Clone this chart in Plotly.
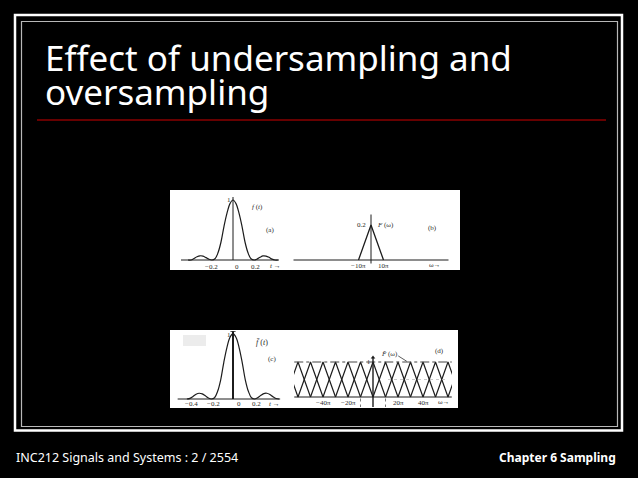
import plotly.graph_objects as go

W, H = 638, 478

# ---------------- data ----------------
# (a) f(t)
t_a = [-0.45, -0.42, -0.39, -0.36, -0.33, -0.30, -0.27, -0.24, -0.21, -0.18, -0.15, -0.12, -0.09, -0.06, -0.03,
       0.0, 0.03, 0.06, 0.09, 0.12, 0.15, 0.18, 0.21, 0.24, 0.27, 0.30, 0.33, 0.36, 0.39, 0.42, 0.45]
f_a = [0, 0, 0.025, 0.055, 0.07, 0.065, 0.04, 0.012, 0, 0.02, 0.12, 0.30, 0.56, 0.78, 0.94,
       1.0, 0.94, 0.78, 0.56, 0.30, 0.12, 0.02, 0, 0.015, 0.045, 0.068, 0.065, 0.045, 0.015, 0, 0]
ticks_a = [-0.2, 0, 0.2]
ticktext_a = ["\u22120.2", "0", "0.2"]

# (b) F(w), w in units of pi
w_b = [-10, 0, 10]
F_b = [0, 0.2, 0]
ticks_b = [-10, 10]
ticktext_b = ["\u221210\u03c0", "10\u03c0"]

# (c) sampled f(t)
t_c = t_a
f_c = [0, 0.01, 0.04, 0.075, 0.09, 0.08, 0.05, 0.015, 0, 0.02, 0.12, 0.30, 0.57, 0.80, 0.96,
       1.02, 0.96, 0.80, 0.57, 0.30, 0.12, 0.02, 0, 0.02, 0.055, 0.085, 0.09, 0.07, 0.035, 0.008, 0]
ticks_c = [-0.4, -0.2, 0, 0.2]
ticktext_c = ["\u22120.4", "\u22120.2", "0", "0.2"]

# (d) overlapping spectra, centres in units of pi
centres_d = [-70, -60, -50, -40, -30, -20, -10, 0, 10, 20, 30, 40, 50, 60, 70]
halfwidth_d = 10
height_d = 1.0
ticks_d = [-40, -20, 20, 40]
ticktext_d = ["\u221240\u03c0", "\u221220\u03c0", "20\u03c0", "40\u03c0"]

# ---------------- layout helpers ----------------
def xdom(L, R):
    return [L / W, R / W]

def ydom(T, B):
    return [1 - B / H, 1 - T / H]

def xr(L, R, px0, s):
    return [(L - px0) / s, (R - px0) / s]

def yr(T, B, py0, s):
    return [(py0 - B) / s, (py0 - T) / s]

INK = "#1c1c1c"
LBL = dict(family="Liberation Serif", size=7, color="#2a2a2a")

fig = go.Figure()

def line(x, y, ax, width=1, color=INK, dash=None, shape="linear"):
    fig.add_trace(go.Scatter(x=x, y=y, mode="lines", xaxis="x" + ax, yaxis="y" + ax,
                             line=dict(color=color, width=width, dash=dash, shape=shape),
                             hoverinfo="skip", showlegend=False))

def label(ax, x, y, text, xanchor="center", size=7, xshift=0):
    f = dict(LBL)
    f["size"] = size
    fig.add_annotation(x=x, y=y, xref="x" + ax, yref="y" + ax, text=text, showarrow=False,
                       xanchor=xanchor, yanchor="middle", font=f, xshift=xshift)

# ---- (a)
line([-0.52, 0.46], [0, 0], "")
line([0, 0], [0, 1.05], "")
line(t_a, f_a, "", width=1.2, shape="spline")
for v, tx, sh in zip(ticks_a, ticktext_a, [-2, 4, 2]):
    label("", v, -0.11, tx, xshift=sh)
label("", -0.04, 1.0, "1")
label("", 0.17, 0.88, "<i>f</i> (<i>t</i>)", xanchor="left")
label("", 0.37, 0.5, "(a)")
label("", 0.42, -0.1, "<i>t</i> \u2192")

# ---- (b)
line([-62, 62], [0, 0], "2")
line([0, 0], [-0.02, 0.26], "2")
line(w_b, F_b, "2", width=1.3)
for v, tx in zip(ticks_b, ticktext_b):
    label("2", v, -0.033, tx)
label("2", -8, 0.2, "0.2")
label("2", 3, 0.2, "<i>F</i> (\u03c9)", xanchor="left")
label("2", 49, 0.18, "(b)")
label("2", 51, -0.03, "\u03c9\u2192")

# ---- (c)
line([-0.54, 0.46], [0, 0], "3")
line([0, 0], [0, 1.06], "3", width=2)
fig.add_trace(go.Scatter(x=[0], y=[1.07], mode="markers", xaxis="x3", yaxis="y3",
                         marker=dict(symbol="triangle-up", size=5, color=INK),
                         hoverinfo="skip", showlegend=False))
line(t_c, f_c, "3", width=1.2, shape="spline")
for v, tx, sh in zip(ticks_c, ticktext_c, [-1, 1, 6, 3]):
    label("3", v, -0.08, tx, xshift=sh)
label("3", -0.04, 1.0, "1")
label("3", 0.2, 0.89, "<i>f\u0304</i> (<i>t</i>)", xanchor="left", size=8)
label("3", 0.38, 0.625, "(c)")
label("3", 0.40, -0.08, "<i>t</i> \u2192")

# ---- (d)
xs, ys = [], []
for c in centres_d:
    xs += [c - halfwidth_d, c, c + halfwidth_d, None]
    ys += [0, height_d, 0, None]
line([-63, 63], [0, 0], "4", width=1.2)
line(xs, ys, "4", width=1.2)
line([-63, 63], [height_d, height_d], "4", width=1, dash="dashdot", color="#444")
line([12, 60], [0.5, 0.5], "4", width=0.8, dash="dot", color="#bbbbbb")
line([-10, -10], [-0.3, 0], "4", width=0.8, dash="dot", color="#555")
line([10, 10], [-0.3, 0], "4", width=0.8, dash="dot", color="#555")
line([0, 0], [-0.3, 1.12], "4", width=1.4)
fig.add_trace(go.Scatter(x=[0], y=[1.13], mode="markers", xaxis="x4", yaxis="y4",
                         marker=dict(symbol="triangle-up", size=4, color=INK),
                         hoverinfo="skip", showlegend=False))
for v, tx in zip(ticks_d, ticktext_d):
    label("4", v, -0.17, tx)
label("4", -4, 1.0, "1", size=6)
label("4", 5, 1.24, "<i>F\u0304</i> (\u03c9)", xanchor="left")
fig.add_annotation(x=27, y=1.02, ax=19, ay=1.2, xref="x4", yref="y4", axref="x4", ayref="y4",
                   text="", showarrow=True, arrowhead=0, arrowwidth=0.8, arrowcolor="#333")
label("4", 53, 1.31, "(d)")
label("4", 57, -0.13, "\u03c9\u2192")

# ---------------- axes ----------------
ax_common = dict(visible=False, fixedrange=True)
fig.update_layout(
    xaxis=dict(domain=xdom(172, 290), range=xr(172, 290, 233, 100), anchor="y", **ax_common),
    yaxis=dict(domain=ydom(192, 268), range=yr(192, 268, 260, 60), anchor="x", **ax_common),
    xaxis2=dict(domain=xdom(292, 458), range=xr(292, 458, 371, 1.25), anchor="y2", **ax_common),
    yaxis2=dict(domain=ydom(192, 268), range=yr(192, 268, 260, 175), anchor="x2", **ax_common),
    xaxis3=dict(domain=xdom(172, 290), range=xr(172, 290, 233, 102.5), anchor="y3", **ax_common),
    yaxis3=dict(domain=ydom(331, 407), range=yr(331, 407, 399, 64), anchor="x3", **ax_common),
    xaxis4=dict(domain=xdom(294, 452), range=xr(294, 452, 373, 1.25), anchor="y4", **ax_common),
    yaxis4=dict(domain=ydom(331, 407), range=yr(331, 407, 397, 35), anchor="x4", **ax_common),
)

# ---------------- slide decoration ----------------
def px_rect(x0, y0, x1, y1, **kw):
    fig.add_shape(type="rect", xref="paper", yref="paper",
                  x0=x0 / W, x1=x1 / W, y0=1 - y1 / H, y1=1 - y0 / H, **kw)

px_rect(15, 15, 622, 430.5, line=dict(color="white", width=2.5), layer="below")
px_rect(21.5, 21.5, 617.5, 426.5, line=dict(color="#b8b8b8", width=1.2), layer="below")
px_rect(170, 190, 460, 270, fillcolor="white", line=dict(width=0), layer="below")
px_rect(170, 330, 458, 408, fillcolor="white", line=dict(width=0), layer="below")
px_rect(183, 335, 206, 346, fillcolor="#ececec", line=dict(width=0), layer="below")
fig.add_shape(type="line", xref="paper", yref="paper", x0=37 / W, x1=606 / W,
              y0=1 - 120 / H, y1=1 - 120 / H, line=dict(color="#8a0000", width=1.5))

TITLE_FONT = dict(family="Noto Sans", size=35, color="white")
for text, yc in [("Effect of undersampling and", 57), ("oversampling", 92)]:
    fig.add_annotation(x=43 / W, y=1 - yc / H, xref="paper", yref="paper", text=text,
                       showarrow=False, xanchor="left", yanchor="middle", font=TITLE_FONT)

fig.add_annotation(x=14 / W, y=1 - 457 / H, xref="paper", yref="paper",
                   text="INC212 Signals and Systems : 2 / 2554", showarrow=False,
                   xanchor="left", yanchor="middle",
                   font=dict(family="Noto Sans", size=12.5, color="white"))
fig.add_annotation(x=618 / W, y=1 - 457 / H, xref="paper", yref="paper",
                   text="<b>Chapter 6 Sampling</b>", showarrow=False,
                   xanchor="right", yanchor="middle",
                   font=dict(family="Noto Sans", size=12, color="white"))

fig.update_layout(width=W, height=H, margin=dict(l=0, r=0, t=0, b=0),
                  paper_bgcolor="black", plot_bgcolor="rgba(0,0,0,0)", showlegend=False)

fig.write_html("out.html", config={"displayModeBar": False, "staticPlot": True},
               post_script="document.body.style.margin='0';document.body.style.background='black';")
